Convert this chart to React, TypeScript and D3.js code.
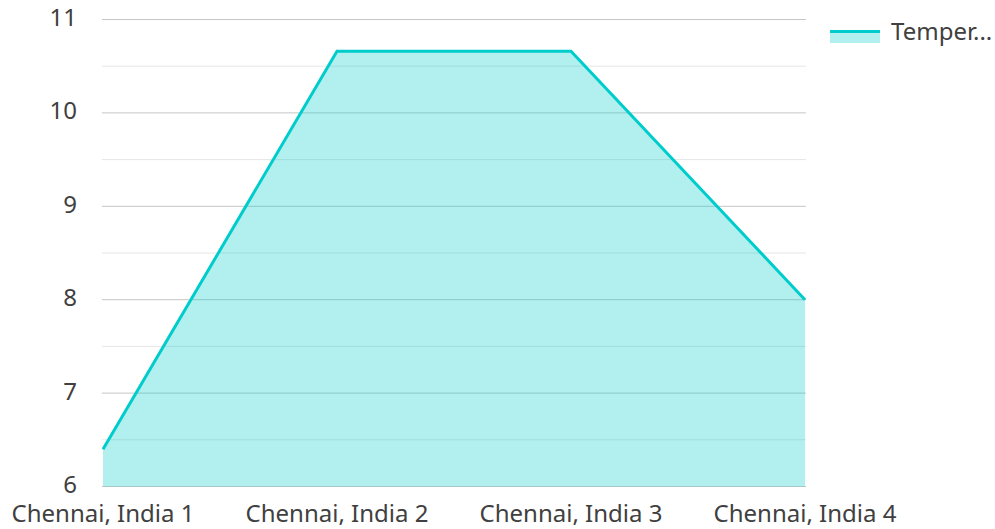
import React from "react";
import * as d3 from "d3";

const categories = ["Chennai, India 1", "Chennai, India 2", "Chennai, India 3", "Chennai, India 4"];
const temperature = [6.4, 10.66, 10.66, 8.0];
const majorTicks = [6, 7, 8, 9, 10, 11];
const minorTicks = [6.5, 7.5, 8.5, 9.5, 10.5];
const seriesName = "Temper...";

const W = 995;
const H = 529;
const FONT = "'Noto Sans', 'Open Sans', sans-serif";

export default function App() {
  const x = d3.scalePoint<string>().domain(categories).range([103, 805]);
  const y = d3.scaleLinear().domain([6, 11]).range([486.5, 19.5]);
  const data = categories.map((c, i) => ({ c, v: temperature[i] }));
  const line = d3.line<{ c: string; v: number }>().x((d) => x(d.c)!).y((d) => y(d.v));
  const area = d3
    .area<{ c: string; v: number }>()
    .x((d) => x(d.c)!)
    .y0(y(6))
    .y1((d) => y(d.v));
  const color = "#00cccc";
  return (
    <svg width={W} height={H} style={{ position: "absolute", left: 0, top: 0 }} fontFamily={FONT}>
      {minorTicks.map((t) => (
        <line key={"m" + t} x1={102} x2={806} y1={y(t)} y2={y(t)} stroke="#e6e6e6" strokeWidth={1} />
      ))}
      {majorTicks.map((t) => (
        <line key={"M" + t} x1={102} x2={806} y1={y(t)} y2={y(t)} stroke="#c6c6c6" strokeWidth={1} />
      ))}
      <path d={area(data)!} fill={color} fillOpacity={0.3} />
      <path d={line(data)!} fill="none" stroke={color} strokeWidth={3} strokeLinejoin="miter" />
      {majorTicks.map((t) => (
        <text key={"t" + t} x={77} y={y(t)} textAnchor="end" dominantBaseline="middle" fontSize={24} fill="#404040">
          {t}
        </text>
      ))}
      {categories.map((c) => (
        <text key={c} x={x(c)!} y={522} textAnchor="middle" fontSize={24} fill="#404040">
          {c}
        </text>
      ))}
      <rect x={830} y={30} width={50} height={13} fill={color} fillOpacity={0.3} />
      <line x1={830} x2={880} y1={31.5} y2={31.5} stroke={color} strokeWidth={3} />
      <text x={891} y={34} dominantBaseline="middle" fontSize={24} fill="#404040">
        {seriesName}
      </text>
    </svg>
  );
}
